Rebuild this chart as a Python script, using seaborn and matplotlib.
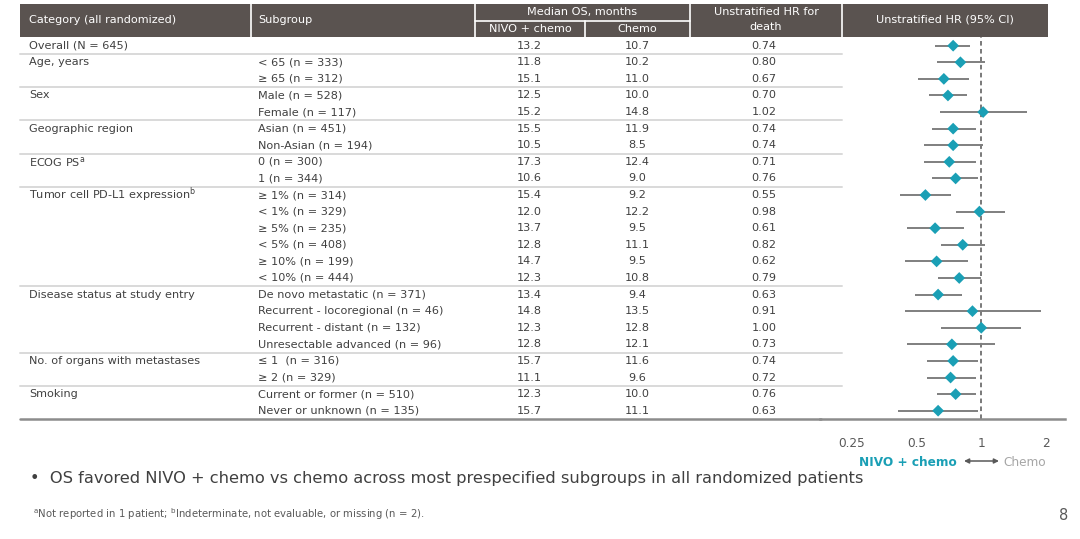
import matplotlib
matplotlib.use("Agg")
import matplotlib.pyplot as plt
import matplotlib.transforms as mtransforms
from matplotlib.patches import Rectangle
import pandas as pd
import seaborn as sns

# Table / forest data
categories = ["Overall (N = 645)", "Age, years", "", "Sex", "", "Geographic region", "",
              r"ECOG PS$^\mathregular{a}$", "",
              r"Tumor cell PD-L1 expression$^\mathregular{b}$", "", "", "", "", "",
              "Disease status at study entry", "", "", "",
              "No. of organs with metastases", "", "Smoking", ""]
subgroups = ["", "< 65 (n = 333)", "≥ 65 (n = 312)", "Male (n = 528)", "Female (n = 117)",
             "Asian (n = 451)", "Non-Asian (n = 194)", "0 (n = 300)", "1 (n = 344)",
             "≥ 1% (n = 314)", "< 1% (n = 329)", "≥ 5% (n = 235)", "< 5% (n = 408)",
             "≥ 10% (n = 199)", "< 10% (n = 444)", "De novo metastatic (n = 371)",
             "Recurrent - locoregional (n = 46)", "Recurrent - distant (n = 132)",
             "Unresectable advanced (n = 96)", "≤ 1  (n = 316)", "≥ 2 (n = 329)",
             "Current or former (n = 510)", "Never or unknown (n = 135)"]
nivo_os = [13.2, 11.8, 15.1, 12.5, 15.2, 15.5, 10.5, 17.3, 10.6, 15.4, 12.0, 13.7,
           12.8, 14.7, 12.3, 13.4, 14.8, 12.3, 12.8, 15.7, 11.1, 12.3, 15.7]
chemo_os = [10.7, 10.2, 11.0, 10.0, 14.8, 11.9, 8.5, 12.4, 9.0, 9.2, 12.2, 9.5,
            11.1, 9.5, 10.8, 9.4, 13.5, 12.8, 12.1, 11.6, 9.6, 10.0, 11.1]
hr = [0.74, 0.80, 0.67, 0.70, 1.02, 0.74, 0.74, 0.71, 0.76, 0.55, 0.98, 0.61,
      0.82, 0.62, 0.79, 0.63, 0.91, 1.00, 0.73, 0.74, 0.72, 0.76, 0.63]
ci_low = [0.61, 0.62, 0.51, 0.57, 0.64, 0.59, 0.54, 0.54, 0.59, 0.42, 0.76, 0.45,
          0.65, 0.44, 0.63, 0.49, 0.44, 0.65, 0.45, 0.56, 0.56, 0.62, 0.41]
ci_high = [0.89, 1.04, 0.88, 0.86, 1.64, 0.95, 1.02, 0.95, 0.97, 0.72, 1.29, 0.83,
           1.04, 0.87, 1.00, 0.81, 1.90, 1.53, 1.16, 0.97, 0.95, 0.95, 0.97]
group_ends = [0, 2, 4, 6, 8, 14, 18, 20]
xticks = [0.25, 0.5, 1, 2]
xticklabels = ["0.25", "0.5", "1", "2"]

sns.set_style("white")
plt.rcParams["font.family"] = ["DejaVu Sans"]

TXT = "#404040"
HEAD = "#5a5350"
TEAL = "#1a9fb5"
FS = 8.1

df = pd.DataFrame({"row": range(len(hr)), "hr": hr, "lo": ci_low, "hi": ci_high})

fig = plt.figure(figsize=(10.8, 5.39), dpi=100)

# background axes in pixel units for the table
tab = fig.add_axes([0, 0, 1, 1])
tab.set_xlim(0, 1080)
tab.set_ylim(539, 0)
tab.axis("off")

# forest plot axes
fax = fig.add_axes([820 / 1080, 1 - 419 / 539, 245 / 1080, 382 / 539])
fax.patch.set_alpha(0)
fax.hlines(df["row"], df["lo"], df["hi"], color="#7f7f7f", lw=1.4, zorder=2)
sns.scatterplot(data=df, x="hr", y="row", marker="D", s=36, color=TEAL,
                edgecolor="none", ax=fax, zorder=3, legend=False)
fax.set_xscale("log", base=2)
fax.set_xlim(0.178, 2.45)
fax.set_ylim(22.5, -0.524)
fax.axvline(1, color="#555555", ls=(0, (3, 2.2)), lw=1.1, zorder=1)
fax.set_xticks(xticks)
fax.set_xticklabels(xticklabels)
fax.minorticks_off()
fax.set_yticks([])
fax.set_xlabel("")
fax.set_ylabel("")
for s in ["top", "left", "right"]:
    fax.spines[s].set_visible(False)
fax.spines["bottom"].set_color("#8c8c8c")
fax.spines["bottom"].set_linewidth(1.8)
fax.tick_params(axis="x", direction="out", length=3, width=1.2, color="#8c8c8c",
                labelsize=8.7, labelcolor="#595959", pad=10)

# rows share y with the forest axes
rt = mtransforms.blended_transform_factory(tab.transData, fax.transData)

# header
tab.add_patch(Rectangle((20, 4), 1028, 33, color=HEAD, lw=0))
for x in [251, 475, 690, 842]:
    tab.plot([x, x], [4, 37], color="white", lw=1.2)
tab.plot([585, 585], [21, 37], color="white", lw=1.2)
tab.plot([475, 690], [21, 21], color="white", lw=1.2)
hkw = dict(color="white", fontsize=FS, va="center")
tab.text(29, 20, "Category (all randomized)", ha="left", **hkw)
tab.text(258, 20, "Subgroup", ha="left", **hkw)
tab.text(582, 12, "Median OS, months", ha="center", **hkw)
tab.text(530, 29.5, "NIVO + chemo", ha="center", **hkw)
tab.text(637, 29.5, "Chemo", ha="center", **hkw)
tab.text(766, 12, "Unstratified HR for", ha="center", **hkw)
tab.text(766, 27.5, "death", ha="center", **hkw)
tab.text(945, 20, "Unstratified HR (95% CI)", ha="center", **hkw)

# body rows
for i in range(len(hr)):
    tab.text(29, i, categories[i], transform=rt, ha="left", va="center", fontsize=FS, color=TXT)
    tab.text(258, i, subgroups[i], transform=rt, ha="left", va="center", fontsize=FS, color=TXT)
    tab.text(529, i, f"{nivo_os[i]:.1f}", transform=rt, ha="center", va="center", fontsize=FS, color=TXT)
    tab.text(637, i, f"{chemo_os[i]:.1f}", transform=rt, ha="center", va="center", fontsize=FS, color=TXT)
    tab.text(764, i, f"{hr[i]:.2f}", transform=rt, ha="center", va="center", fontsize=FS, color=TXT)

for g in group_ends:
    tab.plot([20, 842], [g + 0.5, g + 0.5], transform=rt, color="#d9d9d9", lw=1.4)
tab.plot([20, 821], [22.5, 22.5], transform=rt, color="#8c8c8c", lw=1.8)

# favours legend
tab.text(957, 462, "NIVO + chemo", ha="right", va="center", fontsize=8.7,
         color=TEAL, fontweight="bold")
tab.annotate("", xy=(999, 461), xytext=(964, 461),
             arrowprops=dict(arrowstyle="<|-|>", color="#595959", lw=1.1,
                             mutation_scale=7, shrinkA=0, shrinkB=0))
tab.text(1003, 462, "Chemo", ha="left", va="center", fontsize=8.7, color="#a6a6a6")

# slide text
tab.text(30, 478, "•  OS favored NIVO + chemo vs chemo across most prespecified subgroups in all randomized patients",
         ha="left", va="center", fontsize=11.7, color=TXT)
tab.text(33, 514, r"$^\mathregular{a}$Not reported in 1 patient; $^\mathregular{b}$Indeterminate, not evaluable, or missing (n = 2).",
         ha="left", va="center", fontsize=7.3, color="#595959")
tab.text(1068, 516, "8", ha="right", va="center", fontsize=10.5, color="#595959")

fig.savefig("out.png", dpi=100)
